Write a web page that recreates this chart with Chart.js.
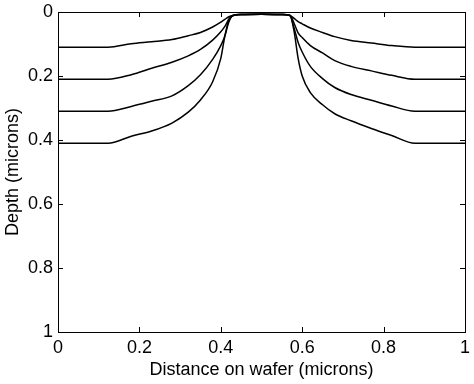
<!DOCTYPE html>
<html>
<head>
<meta charset="utf-8">
<script src="https://cdn.jsdelivr.net/npm/chart.js@4"></script>
<style>
    html, body { margin: 0; padding: 0; background: #fff; }
    #wrap { width: 474px; height: 384px; position: relative; }
</style>
</head>
<body>
<div id="wrap"><canvas id="grafico"></canvas></div>
<script>
// distancia no wafer (microns)
const distancia = [0, 0.123, 0.18, 0.23, 0.28, 0.32, 0.35, 0.38, 0.40, 0.41, 0.42, 0.43, 0.45, 0.5,
    0.55, 0.57, 0.58, 0.59, 0.60, 0.62, 0.65, 0.68, 0.72, 0.77, 0.82, 0.877, 1];

// profundidade (microns) de cada curva
const prof1 = [0.11, 0.11, 0.099, 0.093, 0.086, 0.074, 0.064, 0.047, 0.032, 0.023, 0.015, 0.011, 0.008, 0.007,
    0.008, 0.011, 0.02, 0.03, 0.037, 0.05, 0.064, 0.077, 0.089, 0.097, 0.105, 0.11, 0.11];
const prof2 = [0.21, 0.21, 0.196, 0.176, 0.157, 0.137, 0.117, 0.088, 0.062, 0.045, 0.022, 0.011, 0.008, 0.007,
    0.008, 0.011, 0.035, 0.065, 0.08, 0.105, 0.128, 0.152, 0.17, 0.184, 0.198, 0.21, 0.21];
const prof3 = [0.31, 0.31, 0.295, 0.279, 0.262, 0.23, 0.196, 0.148, 0.105, 0.075, 0.03, 0.011, 0.008, 0.007,
    0.008, 0.011, 0.05, 0.095, 0.125, 0.17, 0.208, 0.236, 0.258, 0.276, 0.294, 0.31, 0.31];
const prof4 = [0.41, 0.41, 0.388, 0.372, 0.347, 0.313, 0.275, 0.218, 0.145, 0.075, 0.025, 0.011, 0.008, 0.007,
    0.008, 0.011, 0.06, 0.145, 0.2, 0.252, 0.29, 0.318, 0.34, 0.364, 0.386, 0.41, 0.41];

const ticksX = [0, 0.2, 0.4, 0.6, 0.8, 1];
const ticksY = [0, 0.2, 0.4, 0.6, 0.8, 1];

const fonte = { family: "'Liberation Sans', Arial, sans-serif", size: 18 };

function montarSerie(prof) {
    return {
        data: distancia.map((x, i) => ({ x: x, y: prof[i] })),
        borderColor: '#000',
        borderWidth: 1.5,
        pointRadius: 0,
        fill: false,
        cubicInterpolationMode: 'monotone'
    };
}

// caixa e marcas internas no estilo matlab
const caixa = {
    id: 'caixa',
    afterDraw(chart) {
        const ctx = chart.ctx;
        const a = chart.chartArea;
        const sx = chart.scales.x, sy = chart.scales.y;
        ctx.save();
        ctx.strokeStyle = '#000';
        ctx.lineWidth = 1;
        ctx.strokeRect(a.left + 0.5, a.top + 0.5, a.right - a.left, a.bottom - a.top);
        ctx.beginPath();
        ticksX.forEach(v => {
            const px = Math.round(sx.getPixelForValue(v)) + 0.5;
            ctx.moveTo(px, a.bottom); ctx.lineTo(px, a.bottom - 5);
            ctx.moveTo(px, a.top); ctx.lineTo(px, a.top + 5);
        });
        ticksY.forEach(v => {
            const py = Math.round(sy.getPixelForValue(v)) + 0.5;
            ctx.moveTo(a.left, py); ctx.lineTo(a.left + 5, py);
            ctx.moveTo(a.right, py); ctx.lineTo(a.right - 5, py);
        });
        ctx.stroke();
        ctx.restore();
    }
};

const rotulo = v => String(+v.toFixed(1));

new Chart(document.getElementById('grafico'), {
    type: 'line',
    data: {
        datasets: [montarSerie(prof1), montarSerie(prof2), montarSerie(prof3), montarSerie(prof4)]
    },
    options: {
        responsive: true,
        maintainAspectRatio: false,
        animation: false,
        layout: { padding: { top: 12, right: 9, left: 0, bottom: 0 } },
        plugins: { legend: { display: false }, tooltip: { enabled: false } },
        scales: {
            x: {
                type: 'linear',
                min: 0,
                max: 1,
                afterFit: s => { s.height = 52; s.paddingLeft = 0; s.paddingRight = 0; },
                afterBuildTicks: s => { s.ticks = ticksX.map(v => ({ value: v })); },
                grid: { display: false, drawTicks: false },
                border: { display: false },
                ticks: { color: '#000', font: fonte, padding: 5, callback: rotulo },
                title: { display: true, text: 'Distance on wafer (microns)', color: '#000', font: fonte, padding: { top: 0, bottom: 3 } }
            },
            y: {
                type: 'linear',
                reverse: true,
                min: 0,
                max: 1,
                afterFit: s => { s.width = 58; s.paddingTop = 0; s.paddingBottom = 0; },
                afterBuildTicks: s => { s.ticks = ticksY.map(v => ({ value: v })); },
                grid: { display: false, drawTicks: false },
                border: { display: false },
                ticks: { color: '#000', font: fonte, padding: 5, callback: rotulo },
                title: { display: true, text: 'Depth (microns)', color: '#000', font: fonte, padding: { top: 2, bottom: 0 } }
            }
        }
    },
    plugins: [caixa]
});
</script>
</body>
</html>
